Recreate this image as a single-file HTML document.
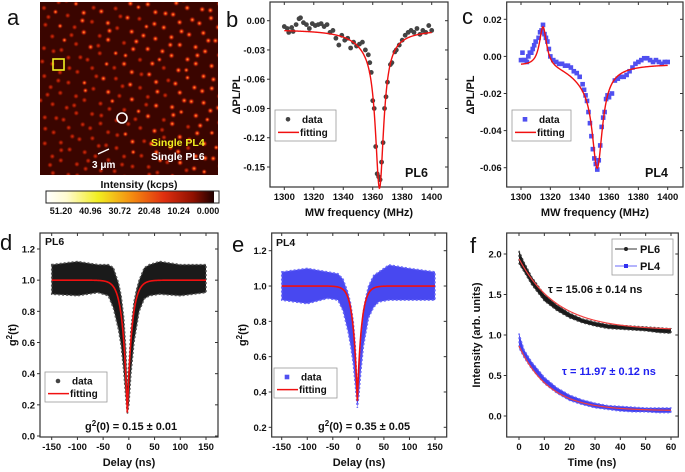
<!DOCTYPE html>
<html><head><meta charset="utf-8"><style>
html,body{margin:0;padding:0;background:#fff;}
svg{display:block;font-family:"Liberation Sans",sans-serif;}
</style></head><body>
<svg id="fig" width="685" height="472" viewBox="0 0 685 472" xmlns="http://www.w3.org/2000/svg">
<defs>
<linearGradient id="cbar" x1="0" x2="1" y1="0" y2="0">
<stop offset="0" stop-color="#ffffff"/><stop offset="0.12" stop-color="#fffbd0"/><stop offset="0.3" stop-color="#f2ee20"/><stop offset="0.5" stop-color="#f48a10"/><stop offset="0.68" stop-color="#e03010"/><stop offset="0.85" stop-color="#901000"/><stop offset="0.97" stop-color="#200000"/><stop offset="0.97" stop-color="#ffffff"/><stop offset="1" stop-color="#ffffff"/>
</linearGradient>
<radialGradient id="spot"><stop offset="0" stop-color="#ffb030"/><stop offset="0.35" stop-color="#e83010"/><stop offset="1" stop-color="#5a0800" stop-opacity="0"/></radialGradient>
<radialGradient id="spotdim"><stop offset="0" stop-color="#d83010"/><stop offset="0.5" stop-color="#901400"/><stop offset="1" stop-color="#5a0800" stop-opacity="0"/></radialGradient>
<clipPath id="clipA"><rect x="40" y="2" width="178" height="173"/></clipPath>
</defs>
</svg>
<script>
// ---------- DATA ----------
const bFreq = [1300,1302,1303,1305,1306,1308,1310,1311,1313,1315,1317,1319,1321,1323,1325,1327,1329,1331,1333,1335,1337,1339,1341,1343,1345,1347,1349,1351,1353,1355,1357,1358,1359,1360,1361,1362,1363,1364,1365,1366,1367,1368,1369,1370,1372,1373,1375,1376,1378,1380,1382,1384,1386,1388,1390,1392,1394,1396,1398,1400];
const bSignal = [-0.006,-0.008,-0.012,-0.007,-0.011,-0.004,0.002,0.003,-0.002,-0.004,-0.008,-0.003,-0.005,-0.004,-0.003,-0.006,-0.004,-0.012,-0.010,-0.018,-0.025,-0.015,-0.020,-0.018,-0.028,-0.022,-0.026,-0.024,-0.022,-0.030,-0.035,-0.043,-0.053,-0.082,-0.090,-0.129,-0.157,-0.160,-0.163,-0.145,-0.125,-0.090,-0.078,-0.063,-0.045,-0.043,-0.032,-0.030,-0.025,-0.020,-0.015,-0.012,-0.010,-0.012,-0.008,-0.014,-0.010,-0.012,-0.005,-0.010];
const bFitParams = [-0.009, 0.150, 1364.6, 3.4, 0.014, 1360, 15];
const cFreq = [1300,1301,1302,1303,1304,1305,1306,1307,1308,1309,1310,1312,1313,1314,1315,1316,1317,1318,1319,1320,1322,1324,1326,1328,1330,1332,1334,1336,1338,1340,1342,1343,1344,1345,1346,1347,1348,1349,1350,1351,1352,1353,1354,1355,1356,1357,1358,1359,1360,1362,1364,1366,1368,1370,1372,1374,1376,1378,1380,1382,1384,1386,1388,1390,1392,1394,1396,1398,1400];
const cSignal = [-0.002,0.002,-0.002,-0.002,-0.003,0.000,0.002,0.002,0.004,0.006,0.008,0.010,0.013,0.014,0.017,0.012,0.010,0.008,0.004,0.000,-0.002,-0.003,-0.004,-0.004,-0.005,-0.005,-0.006,-0.008,-0.009,-0.011,-0.015,-0.018,-0.021,-0.024,-0.030,-0.036,-0.043,-0.050,-0.055,-0.058,-0.061,-0.056,-0.048,-0.038,-0.033,-0.030,-0.023,-0.021,-0.022,-0.020,-0.013,-0.012,-0.011,-0.011,-0.010,-0.008,-0.006,-0.004,-0.003,-0.002,-0.001,-0.001,-0.002,-0.003,-0.002,-0.003,-0.004,-0.003,-0.003];
const cFitParams = [-0.004, 0.022, 1315, 3.0, 0.050, 1352, 4.2, 0.008, 1345, 14];
const dDelay = [-150,-100,-60,-40,-30,-20,-15,-10,-6,-3,0,4,10,15,20,30,40,60,100,150];
const dUpper = [1.10,1.12,1.10,1.10,1.08,0.98,0.90,0.76,0.56,0.32,0.45,0.68,0.86,0.94,1.00,1.08,1.10,1.12,1.10,1.10];
const dLower = [0.91,0.90,0.92,0.90,0.82,0.68,0.58,0.42,0.25,0.14,0.20,0.40,0.60,0.70,0.80,0.88,0.90,0.91,0.90,0.92];
const dFitParams = [1.0, 0.85, -3, 9];
const eDelay = [-150,-100,-60,-40,-30,-20,-15,-10,-6,-2,1,5,10,15,20,30,40,60,100,150];
const eUpper = [1.08,1.10,1.08,1.07,1.04,0.96,0.90,0.80,0.66,0.40,0.52,0.72,0.86,0.94,1.00,1.06,1.08,1.12,1.10,1.08];
const eLower = [0.92,0.90,0.93,0.92,0.86,0.74,0.66,0.56,0.44,0.31,0.38,0.52,0.66,0.74,0.82,0.88,0.91,0.92,0.92,0.92];
const eFitParams = [1.0, 0.65, -2, 8];
const fTime = [0,2,5,10,15,20,25,30,35,40,45,50,55,60];
const fPL6Upper = [2.04,1.90,1.72,1.50,1.37,1.27,1.20,1.16,1.13,1.12,1.11,1.10,1.09,1.08];
const fPL6Lower = [1.88,1.78,1.62,1.42,1.30,1.21,1.15,1.11,1.08,1.07,1.06,1.05,1.03,1.02];
const fPL4Upper = [1.02,0.82,0.67,0.48,0.35,0.26,0.20,0.16,0.13,0.12,0.11,0.10,0.10,0.10];
const fPL4Lower = [0.84,0.72,0.58,0.40,0.28,0.19,0.14,0.10,0.08,0.06,0.05,0.05,0.04,0.04];
const fPL6Fit = [1.06, 0.88, 15.06];
const fPL4Fit = [0.065, 0.80, 11.97];
const cbarLabels = ["51.20","40.96","30.72","20.48","10.24","0.000"];

// ---------- HELPERS ----------
const NS = "http://www.w3.org/2000/svg";
const svg = document.getElementById("fig");
function mk(tag, attrs, parent){ const e=document.createElementNS(NS,tag); for(const k in attrs) e.setAttribute(k,attrs[k]); (parent||svg).appendChild(e); return e; }
function lin(d0,d1,r0,r1){ return v => r0 + (v-d0)*(r1-r0)/(d1-d0); }
function txt(s, x, y, size, opts, parent){
  const t = mk("text", Object.assign({x:x,y:y,"font-size":size,"font-weight":"bold",fill:"#111"}, opts||{}), parent);
  t.textContent = s; return t;
}

function axes(g, box, xs, ys, xt, yt, xfmt, yfmt){
  const r = mk("rect",{x:box[0],y:box[2],width:box[1]-box[0],height:box[3]-box[2],fill:"none",stroke:"#333","stroke-width":1.2},g);
  
  
  xt.forEach(v=>{
    const x = xs(v);
    mk("line",{x1:x,x2:x,y1:box[3],y2:box[3]+3,stroke:"#333","stroke-width":1},g);
    mk("line",{x1:x,x2:x,y1:box[2],y2:box[2]+3,stroke:"#333","stroke-width":1},g);
    const t = txt(xfmt(v), x, box[3]+13, 9.5, {"text-anchor":"middle"}, g);
    
    
  });
  yt.forEach(v=>{
    const y = ys(v);
    mk("line",{x1:box[0]-3,x2:box[0],y1:y,y2:y,stroke:"#333","stroke-width":1},g);
    mk("line",{x1:box[1]-3,x2:box[1],y1:y,y2:y,stroke:"#333","stroke-width":1},g);
    const t = txt(yfmt(v), box[0]-5, y+3.5, 9.5, {"text-anchor":"end"}, g);
    
    
  });
}
function curvePath(xs, ys, x0, x1, fn, n){
  let d=""; for(let i=0;i<=n;i++){ const v=x0+(x1-x0)*i/n; d+=(i?"L":"M")+xs(v).toFixed(2)+","+ys(fn(v)).toFixed(2); } return d;
}
function bandPath(xs, ys, xa, up, lo){
  let d=""; xa.forEach((v,i)=>{ d+=(i?"L":"M")+xs(v).toFixed(2)+","+ys(up[i]).toFixed(2); });
  for(let i=xa.length-1;i>=0;i--) d+="L"+xs(xa[i]).toFixed(2)+","+ys(lo[i]).toFixed(2);
  return d+"Z";
}
function ylabel(s, x, y, g){ const t=txt(s,x,y,11,{"text-anchor":"middle",transform:`rotate(-90 ${x} ${y})`},g); return t; }
function legend(g, box, type, color, l1, l2){
  const r = mk("rect",{x:box[0],y:box[1],width:box[2],height:box[3],fill:"#fff",stroke:"#999","stroke-width":0.8},g);
  
  
  const cx = box[0]+13, y1 = box[1]+box[3]*0.3, y2 = box[1]+box[3]*0.72;
  if(type==="circle") mk("circle",{cx:cx,cy:y1,r:2.3,fill:color},g);
  else mk("rect",{x:cx-2.3,y:y1-2.3,width:4.6,height:4.6,fill:color},g);
  mk("line",{x1:box[0]+3,x2:box[0]+24,y1:y2,y2:y2,stroke:"#f01010","stroke-width":1.5},g);
  const a = txt(l1, box[0]+27, y1+3.5, 10, {}, g);
  
  
  const b = txt(l2, box[0]+25, y2+3.5, 10, {}, g);
  
  
}
function letter(s,x,y){ const t=txt(s,x,y,22,{"font-weight":"normal"});   }

// ---------- PANEL A ----------
const ga = mk("g",{});


letter("a",7,25);
const bg = mk("rect",{x:40,y:2,width:178,height:173,fill:"#3a0500"},ga);


const spots = mk("g",{"clip-path":"url(#clipA)"},ga);
for(let j=-2;j<18;j++){
  for(let i=-2;i<18;i++){
    const x = 44 + i*11.6 + j*2.2 + 3*Math.sin(i*1.7+j*2.3);
    const y = 5 + j*11.2 - i*1.4 + 3*Math.cos(i*2.1+j*1.3);
    if(x<36||x>222||y<-2||y>180) continue;
    const bright = (x-40)/178 + (175-y)/300 + 0.3*Math.sin(i*3.1+j*5.7);
    mk("circle",{cx:x.toFixed(1),cy:y.toFixed(1),r:(bright>0.9?3.4:3),fill:bright>0.8?"url(#spot)":"url(#spotdim)"},spots);
  }
}
const sq = mk("rect",{x:53,y:59,width:11,height:11,fill:"none",stroke:"#f0f020","stroke-width":1.6},ga);


const ci = mk("circle",{cx:122,cy:118,r:5,fill:"none",stroke:"#fff","stroke-width":1.6},ga);


mk("line",{x1:98,y1:154,x2:109,y2:149,stroke:"#fff","stroke-width":1.4},ga);
const sb = txt("3 μm",92,168,10,{fill:"#fff"},ga);


const l4 = txt("Single PL4",151,146,10.5,{fill:"#f0f020"},ga);


const l6 = txt("Single PL6",151,160,10.5,{fill:"#fff"},ga);


const it = txt("Intensity (kcps)",139,188,10.5,{"text-anchor":"middle"},ga);


const cb = mk("rect",{x:46,y:191,width:173,height:12,fill:"url(#cbar)",stroke:"#222","stroke-width":1},ga);


const cbx = lin(0,5,61,208);
cbarLabels.forEach((s,i)=>{ const t=txt(s,cbx(i),214,9,{"text-anchor":"middle"},ga);   });

// ---------- PANEL B ----------
const gb = mk("g",{});


letter("b",226,27);
{
  const xs = lin(1300,1400,284.3,431.7), ys = lin(0,-0.15,20.7,167);
  axes(gb,[270,448,2,187],xs,ys,[1300,1320,1340,1360,1380,1400],[0,-0.03,-0.06,-0.09,-0.12,-0.15],v=>v,v=>v.toFixed(2));
  const p = bFitParams;
  const fit = f => p[0] - p[1]/(1+((f-p[2])/p[3])**2) - p[4]/(1+((f-p[5])/p[6])**2);
  bFreq.forEach((f,i)=>{ const c=mk("circle",{cx:xs(f),cy:ys(bSignal[i]),r:2.4,fill:"#444"},gb);   });
  const path = mk("path",{d:curvePath(xs,ys,1300,1400,fit,400),fill:"none",stroke:"#f01010","stroke-width":1.4},gb);
  
  
  legend(gb,[275,110,61,31],"circle","#444","data","fitting");
  const a=txt("PL6",405,177,12.5,{},gb);  
  const yl=ylabel("ΔPL/PL",240,95,gb);  
  const xl=txt("MW frequency (MHz)",359,216,11,{"text-anchor":"middle"},gb);  
}

// ---------- PANEL C ----------
const gc = mk("g",{});


letter("c",462,24);
{
  const xs = lin(1300,1400,521,667.7), ys = lin(0.02,-0.06,19.3,167.7);
  axes(gc,[506.7,683,2,187],xs,ys,[1300,1320,1340,1360,1380,1400],[0.02,0,-0.02,-0.04,-0.06],v=>v,v=>v.toFixed(2));
  const p = cFitParams;
  const fit = f => p[0] + p[1]/(1+((f-p[2])/p[3])**2) - p[4]/(1+((f-p[5])/p[6])**2) - p[7]/(1+((f-p[8])/p[9])**2);
  cFreq.forEach((f,i)=>{ const r=mk("rect",{x:xs(f)-2.3,y:ys(cSignal[i])-2.3,width:4.6,height:4.6,fill:"#5050f0"},gc);   });
  const path = mk("path",{d:curvePath(xs,ys,1300,1400,fit,400),fill:"none",stroke:"#f01010","stroke-width":1.4},gc);
  
  
  legend(gc,[512,110,59,31],"square","#5050f0","data","fitting");
  const a=txt("PL4",645,177,12.5,{},gc);  
  const yl=ylabel("ΔPL/PL",474,95,gc);  
  const xl=txt("MW frequency (MHz)",595,216,11,{"text-anchor":"middle"},gc);  
}

// ---------- PANEL D ----------
const gd = mk("g",{});


letter("d",0,250);
{
  const xs = lin(-150,150,51.7,206), ys = lin(0,1.2,436,249);
  axes(gd,[40,218,233,437],xs,ys,[-150,-100,-50,0,50,100,150],[0,0.2,0.4,0.6,0.8,1.0,1.2],v=>v,v=>v.toFixed(1));
  const band = mk("path",{d:bandPath(xs,ys,dDelay,dUpper,dLower),fill:"#1a1a1a",stroke:"#555","stroke-width":1.5,"stroke-dasharray":"2 2"},gd);
  
  
  const p=dFitParams; const fit = t => p[0]-p[1]*Math.exp(-Math.abs(t-p[2])/p[3]);
  const path = mk("path",{d:curvePath(xs,ys,-150,150,fit,600),fill:"none",stroke:"#f01010","stroke-width":1.6},gd);
  
  
  legend(gd,[45,372,62,30],"circle","#444","data","fitting");
  const a=txt("PL6",45,245,10.5,{},gd);  
  const g2=mk("text",{x:85,y:430,"font-size":11,"font-weight":"bold",fill:"#111"},gd);
  g2.innerHTML='g<tspan dy="-4" font-size="8">2</tspan><tspan dy="4">(0) = 0.15 ± 0.01</tspan>';
  
  
  const yl=mk("text",{x:16,y:335,"font-size":11,"font-weight":"bold",fill:"#111","text-anchor":"middle",transform:"rotate(-90 16 335)"},gd);
  yl.innerHTML='g<tspan dy="-4" font-size="8">2</tspan><tspan dy="4">(t)</tspan>';
  
  
  const xl=txt("Delay (ns)",129,466,11,{"text-anchor":"middle"},gd);  
}

// ---------- PANEL E ----------
const ge = mk("g",{});


letter("e",232,252);
{
  const xs = lin(-150,150,281.7,435), ys = lin(0.2,1.2,427.3,250.7);
  axes(ge,[271.7,446.7,233,437],xs,ys,[-150,-100,-50,0,50,100,150],[0.2,0.4,0.6,0.8,1.0,1.2],v=>v,v=>v.toFixed(1));
  const band = mk("path",{d:bandPath(xs,ys,eDelay,eUpper,eLower),fill:"#4848f0",stroke:"#6a6af8","stroke-width":1.5,"stroke-dasharray":"2 2"},ge);
  
  
  const p=eFitParams; const fit = t => p[0]-p[1]*Math.exp(-Math.abs(t-p[2])/p[3]);
  const path = mk("path",{d:curvePath(xs,ys,-150,150,fit,600),fill:"none",stroke:"#f01010","stroke-width":1.6},ge);
  
  
  legend(ge,[274,368,63,30],"square","#5050f0","data","fitting");
  const a=txt("PL4",276,246,10.5,{},ge);  
  const g2=mk("text",{x:318,y:430,"font-size":11,"font-weight":"bold",fill:"#111"},ge);
  g2.innerHTML='g<tspan dy="-4" font-size="8">2</tspan><tspan dy="4">(0) = 0.35 ± 0.05</tspan>';
  
  
  const yl=mk("text",{x:246,y:335,"font-size":11,"font-weight":"bold",fill:"#111","text-anchor":"middle",transform:"rotate(-90 246 335)"},ge);
  yl.innerHTML='g<tspan dy="-4" font-size="8">2</tspan><tspan dy="4">(t)</tspan>';
  
  
  const xl=txt("Delay (ns)",359,466,11,{"text-anchor":"middle"},ge);  
}

// ---------- PANEL F ----------
const gf = mk("g",{});


letter("f",470,253);
{
  const xs = lin(0,60,519,671), ys = lin(0,2,416,254);
  axes(gf,[506.7,678.3,233,437],xs,ys,[0,10,20,30,40,50,60],[0,0.5,1.0,1.5,2.0],v=>v,v=>v.toFixed(1));
  const b6 = mk("path",{d:bandPath(xs,ys,fTime,fPL6Upper,fPL6Lower),fill:"#1a1a1a",stroke:"#444","stroke-width":1.2,"stroke-dasharray":"2 2"},gf);
  
  
  const b4 = mk("path",{d:bandPath(xs,ys,fTime,fPL4Upper,fPL4Lower),fill:"#4040f0",stroke:"#6a6af8","stroke-width":1.2,"stroke-dasharray":"2 2"},gf);
  
  
  const f6 = t => fPL6Fit[0]+fPL6Fit[1]*Math.exp(-t/fPL6Fit[2]);
  const f4 = t => fPL4Fit[0]+fPL4Fit[1]*Math.exp(-t/fPL4Fit[2]);
  const p6 = mk("path",{d:curvePath(xs,ys,0,60,f6,200),fill:"none",stroke:"#f04040","stroke-width":1.2},gf);
  
  
  const p4 = mk("path",{d:curvePath(xs,ys,0,60,f4,200),fill:"none",stroke:"#f04040","stroke-width":1.2},gf);
  
  
  const lb = mk("rect",{x:612,y:239,width:61,height:36,fill:"#fff",stroke:"#999","stroke-width":0.8},gf);
  
  
  mk("line",{x1:615,x2:637,y1:249,y2:249,stroke:"#333","stroke-width":1},gf);
  mk("circle",{cx:626,cy:249,r:2,fill:"#222"},gf);
  mk("line",{x1:615,x2:637,y1:266,y2:266,stroke:"#6a6af8","stroke-width":1},gf);
  mk("rect",{x:624,y:264,width:4,height:4,fill:"#3030f0"},gf);
  const e1=txt("PL6",640,253,11,{},gf);  
  const e2=txt("PL4",640,270,11,{},gf);  
  const t1=txt("τ = 15.06 ± 0.14 ns",548,293,11,{},gf);  
  const t2=txt("τ = 11.97 ± 0.12 ns",562,375,11,{fill:"#2020f0"},gf);  
  const yl=ylabel("Intensity (arb. units)",480,335,gf);  
  const xl=txt("Time (ns)",592,466,11,{"text-anchor":"middle"},gf);  
}
</script>
</body></html>
